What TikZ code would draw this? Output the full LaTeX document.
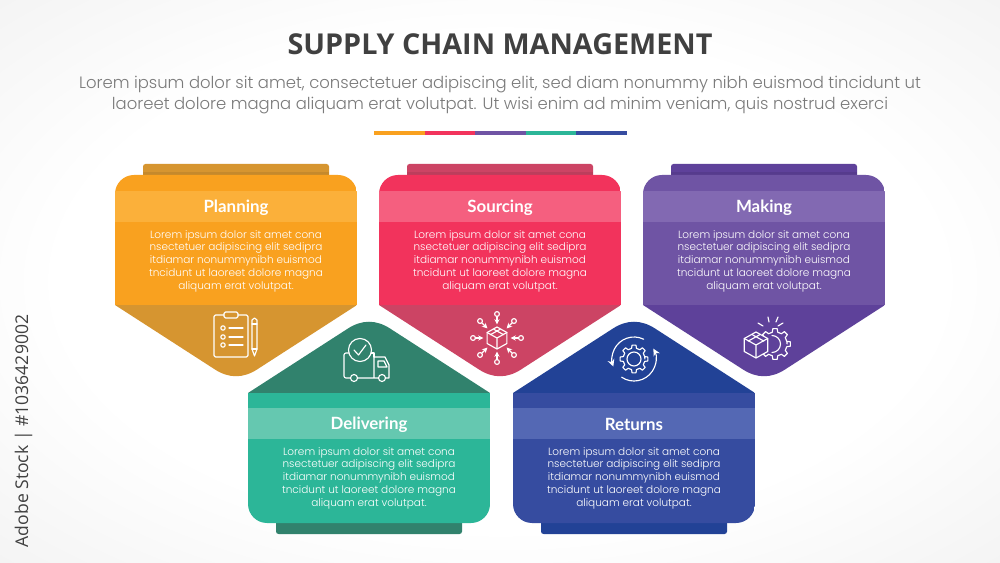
\documentclass[tikz,border=0pt]{standalone}
\usepackage{fontspec}
\setmainfont{Poppins}[UprightFont=* Light]
\newfontfamily\headfont{Open Sans}
\newfontfamily\cardfont{Lato}
\usetikzlibrary{calc}
\usetikzlibrary{arrows.meta}

\definecolor{planMain}{HTML}{F9A11F}
\definecolor{planBand}{HTML}{FBB03A}
\definecolor{planLow}{HTML}{D69530}
\definecolor{srcMain}{HTML}{F2335C}
\definecolor{srcBand}{HTML}{F55F7F}
\definecolor{srcLow}{HTML}{CC4464}
\definecolor{makeMain}{HTML}{6F54A4}
\definecolor{makeBand}{HTML}{8269B2}
\definecolor{makeLow}{HTML}{5E419A}
\definecolor{delMain}{HTML}{2CB698}
\definecolor{delBand}{HTML}{65C8B0}
\definecolor{delLow}{HTML}{31826D}
\definecolor{retMain}{HTML}{364CA0}
\definecolor{retBand}{HTML}{5468B4}
\definecolor{retLow}{HTML}{224296}
\definecolor{titleInk}{HTML}{404040}
\definecolor{subInk}{HTML}{7A7A7A}

\pgfdeclareradialshading{softback}{\pgfpoint{0bp}{0bp}}{color(0bp)=(white); color(22bp)=(white); color(50bp)=(black!9)}

\newcommand{\cardtext}{Lorem ipsum dolor sit amet cona\\nsectetuer adipiscing elit sedipra\\itdiamar nonummynibh euismod\\tncidunt ut laoreet dolore magna\\aliquam erat volutpat.}

\tikzset{
  cardtitle/.style={white,font=\cardfont\bfseries\fontsize{9.6}{11}\selectfont},
  cardbody/.style={white,align=center,inner sep=0,font=\fontsize{5.97}{7.26}\selectfont},
  icon/.style={white,line width=0.65pt,line join=round,line cap=round},
  gearicon/.pic={
    \draw[icon,pic actions] (0:#1*.78)
      \foreach \ang in {0,45,...,315}{
        -- (\ang-13:#1*.78) -- (\ang-8:#1) -- (\ang+8:#1) -- (\ang+13:#1*.78) -- (\ang+32:#1*.78)
      } -- cycle;
  },
  cubeicon/.pic={
    \draw[icon] (0,-1) -- (.9,-.5) -- (.9,.5) -- (0,1) -- (-.9,.5) -- (-.9,-.5) -- cycle;
    \draw[icon] (-.9,-.5) -- (0,0) -- (.9,-.5) (0,0) -- (0,1);
    \draw[icon] (-.3,-.8) -- (.6,-.3) (.3,-.8) -- (-.6,-.3);
  }
}

\begin{document}
\begin{tikzpicture}[x=0.02cm,y=-0.02cm]
\useasboundingbox (0,0) rectangle (1000,563);
\shade[shading=softback] (0,0) rectangle (1000,563);

\node[titleInk,font=\headfont\bfseries\fontsize{16.37}{20}\selectfont] (maintitle) at (500,44) {SUPPLY CHAIN MANAGEMENT};
\node[subInk,align=center,inner sep=0,font=\fontsize{9.36}{11.9}\selectfont] (subtitle) at (500,95) {Lorem ipsum dolor sit amet, consectetuer adipiscing elit, sed diam nonummy nibh euismod tincidunt ut\\laoreet dolore magna aliquam erat volutpat. Ut wisi enim ad minim veniam, quis nostrud exerci};

\foreach \xl/\cc in {374/planMain,424.6/srcMain,475.2/makeMain,525.8/delMain,576.4/retMain}{
  \fill[\cc] (\xl,131) rectangle ++(50.6,3.6);
}

% top row, pointing down
\foreach \cname/\xl/\cmain/\cband/\clow in {Planning/115/planMain/planBand/planLow,Sourcing/379/srcMain/srcBand/srcLow,Making/643/makeMain/makeBand/makeLow}{
  \fill[\clow,rounded corners=0.05cm] (\xl+28,164) rectangle (\xl+214,180);
  \fill[black,opacity=.08] (\xl+28,172) rectangle (\xl+214,176);
  \begin{scope}
    \clip (\xl,305) -- (\xl,194) .. controls (\xl,183.5) and (\xl+8.5,175) .. (\xl+19,175) -- (\xl+223,175) .. controls (\xl+233.5,175) and (\xl+242,183.5) .. (\xl+242,194) -- (\xl+242,305) -- (\xl+142,369.5) .. controls (\xl+128,378.5) and (\xl+114,378.5) .. (\xl+100,369.5) -- cycle;
    \fill[\cmain] (\xl,170) rectangle (\xl+242,305);
    \fill[\cband] (\xl,191) rectangle (\xl+242,222);
    \fill[\clow] (\xl,305) rectangle (\xl+242,390);
  \end{scope}
  \node[cardtitle] (title\cname) at (\xl+121,207.5) {\cname};
  \node[cardbody] (body\cname) at (\xl+121,261) {\cardtext};
}

% bottom row, pointing up
\foreach \cname/\xl/\cmain/\cband/\clow in {Delivering/248/delMain/delBand/delLow,Returns/513/retMain/retBand/retLow}{
  \fill[\clow,rounded corners=0.05cm] (\xl+28,518) rectangle (\xl+214,534);
  \begin{scope}
    \clip (\xl,393) -- (\xl+100,328.5) .. controls (\xl+114,319.5) and (\xl+128,319.5) .. (\xl+142,328.5) -- (\xl+242,393) -- (\xl+242,504) .. controls (\xl+242,514.5) and (\xl+233.5,523) .. (\xl+223,523) -- (\xl+19,523) .. controls (\xl+8.5,523) and (\xl,514.5) .. (\xl,504) -- cycle;
    \fill[\cmain] (\xl,393) rectangle (\xl+242,525);
    \fill[\cband] (\xl,408) rectangle (\xl+242,439);
    \fill[\clow] (\xl,310) rectangle (\xl+242,393);
  \end{scope}
  \node[cardtitle] (title\cname) at (\xl+121,424.5) {\cname};
  \node[cardbody] (body\cname) at (\xl+121,478) {\cardtext};
}

% clipboard
\draw[icon,rounded corners=0.03cm] (224,315) -- (214,315) -- (214,357) -- (248,357) -- (248,315) -- (238,315);
\draw[icon,rounded corners=0.03cm] (224,312) rectangle (238,318);
\foreach \yy in {328,337,345}{
  \draw[icon] (223,\yy) circle (2.2);
  \draw[icon] (229,\yy) -- (243,\yy);
}
\draw[icon] (252,320) -- (252,349) -- (254.5,356) -- (257,349) -- (257,320) -- (254.5,318) -- cycle;
\draw[icon] (252,324) -- (257,324) (252,349) -- (257,349);

% truck
\draw[icon,rounded corners=0.04cm] (350,353) -- (344,353) -- (344,378) -- (350.5,378);
\draw[icon] (357.5,378) -- (378.5,378) (385.5,378) -- (389,378) -- (389,365) -- (385,357) -- (374,357) -- (374,378);
\draw[icon] (370,353) -- (374,353) -- (374,357);
\draw[icon] (378,361) -- (384,361) -- (387,367) -- (378,367) -- cycle;
\draw[icon] (354,378) circle (3.5) (382,378) circle (3.5);
\draw[icon,fill=delLow] (360,350) circle (11.5);
\draw[icon] (354,350) -- (358.5,355) -- (366,345);

% network of arrows round a box
\foreach \ang in {0,45,...,315}{
  \draw[icon,-{Stealth[length=3pt,width=3pt]}] (497,338) ++(\ang:21.6) -- ++(\ang:-8);
  \draw[icon] (497,338) ++(\ang:24) circle (2.4);
}
\path (497,338) pic[scale=11] {cubeicon};

% gear with turning arrows
\path (634,359) pic {gearicon={14}};
\draw[icon] (634,359) circle (7);
\draw[icon,-{Stealth[length=4pt,width=4pt]}] (634,359) ++(296:22) arc[start angle=296,end angle=160,radius=22];
\draw[icon,-{Stealth[length=4pt,width=4pt]}] (634,359) ++(124:22) arc[start angle=124,end angle=-28,radius=22];

% box and gear
\path (775,344) pic {gearicon={15.5}};
\draw[icon] (772,335.5) arc[start angle=-90,end angle=90,radius=8.5];
\fill[makeLow] (756,332) -- ++(12,6.5) -- ++(0,13) -- ++(-12,6.5) -- ++(-12,-6.5) -- ++(0,-13) -- cycle;
\path (756,345) pic[scale=13] {cubeicon};
\draw[icon] (758,323) -- (763,326) (768,317) -- (769,322) (778,317) -- (776,322) (783,323) -- (778,326);

\node[rotate=90,titleInk,font=\headfont\fontsize{10}{11}\selectfont] (stockid) at (23.5,431) {Adobe Stock | \#1036429002};
\end{tikzpicture}
\end{document}
